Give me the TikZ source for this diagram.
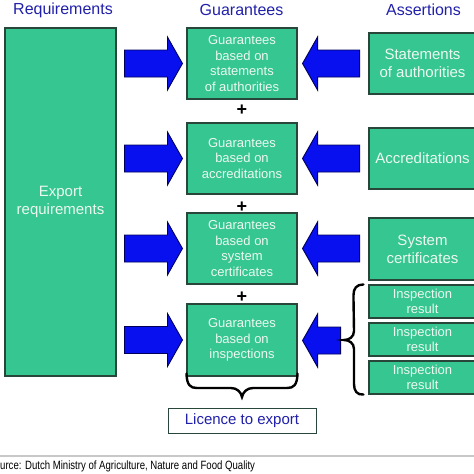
\documentclass[tikz,border=0pt]{standalone}
\usepackage{fontspec}
\setmainfont{Liberation Sans}
\newfontfamily\srcfont[FakeStretch=0.8]{Liberation Sans}
\definecolor{boxgreen}{RGB}{54,198,145}
\definecolor{boxline}{RGB}{40,70,58}
\definecolor{boxtext}{RGB}{236,248,242}
\definecolor{titleblue}{RGB}{32,32,170}
\definecolor{arrowblue}{RGB}{8,16,240}
\definecolor{arrowline}{RGB}{0,0,90}
\definecolor{sepgray}{RGB}{200,200,200}
\tikzset{
  gbox/.style={draw=boxline, line width=1.1pt, fill=boxgreen, text=boxtext, align=center, inner sep=0pt},
  small/.style={font=\fontsize{13}{15.5}\selectfont},
  big/.style={font=\fontsize{15}{18}\selectfont},
  title/.style={text=titleblue, font=\fontsize{16}{19}\selectfont, inner sep=0pt},
  plus/.style={font=\bfseries\fontsize{18}{18}\selectfont, inner sep=0pt},
  brc/.style={draw=black, line width=2.4pt, line cap=round},
  blockarrow/.style={draw=arrowline, line width=0.9pt, fill=arrowblue, line join=miter},
  pics/rarr/.style={code={\path[blockarrow] (0,0) -- (-15,-26.5) -- (-15,-13.5) -- (-58,-13.5) -- (-58,13.5) -- (-15,13.5) -- (-15,26.5) -- cycle;}},
  pics/larr/.style={code={\path[blockarrow] (0,0) -- (15,-26.5) -- (15,-13.5) -- (#1,-13.5) -- (#1,13.5) -- (15,13.5) -- (15,26.5) -- cycle;}},
}
\begin{document}
\begin{tikzpicture}[x=1pt,y=-1pt]
\useasboundingbox (0,0) rectangle (474,474);
% titles
\node[title] (tr) at (63,10) {Requirements};
\node[title] (tg) at (241.5,10) {Guarantees};
\node[title] (ta) at (423.5,10) {Assertions};
% requirement box
\node[gbox, big, minimum width=111pt, minimum height=348pt] (req) at (60.5,202) {Export\\requirements};
% guarantee boxes
\node[gbox, small, minimum width=110pt, minimum height=71pt] (g1) at (242,63.5) {Guarantees\\based on\\statements\\of authorities};
\node[gbox, small, minimum width=110pt, minimum height=71pt] (g2) at (242,158.5) {Guarantees\\based on\\accreditations};
\node[gbox, small, minimum width=110pt, minimum height=71pt] (g3) at (242,248.5) {Guarantees\\based on\\system\\certificates};
\node[gbox, small, minimum width=110pt, minimum height=72pt] (g4) at (242,340) {Guarantees\\based on\\inspections};
% plus signs
\node[plus] (p1) at (242,110) {+};
\node[plus] (p2) at (242,207) {+};
\node[plus] (p3) at (242,297) {+};
% assertion boxes
\node[gbox, big, minimum width=107pt, minimum height=61pt] (a1) at (422.5,63.5) {Statements\\of authorities};
\node[gbox, big, minimum width=107pt, minimum height=61pt] (a2) at (422.5,158.5) {Accreditations};
\node[gbox, big, minimum width=107pt, minimum height=62pt] (a3) at (422.5,249) {System\\certificates};
\node[gbox, small, minimum width=107pt, minimum height=33pt] (i1) at (422.5,301.5) {Inspection\\result};
\node[gbox, small, minimum width=107pt, minimum height=33pt] (i2) at (422.5,339.5) {Inspection\\result};
\node[gbox, small, minimum width=107pt, minimum height=33pt] (i3) at (422.5,377.5) {Inspection\\result};
% arrows requirements -> guarantees
\pic at ([xshift=-4pt]g1.west) {rarr};
\pic at ([xshift=-4pt]g2.west) {rarr};
\pic at ([xshift=-4pt]g3.west) {rarr};
\pic at ([xshift=-4pt]g4.west) {rarr};
% arrows assertions -> guarantees
\pic at ([xshift=5pt]g1.east) {larr=57};
\pic at ([xshift=5pt]g2.east) {larr=57};
\pic at ([xshift=5pt]g3.east) {larr=57};
\pic at ([xshift=5pt,yshift=-0.5pt]g4.east) {larr=38};
% right brace
\coordinate (rb1) at ([xshift=-5pt]i1.north west);
\coordinate (rb2) at ([xshift=-5pt]i3.south west);
\draw[brc] (rb1) .. controls +(-7,0) and +(0,-7) .. ++(-10,11) -- (354,331)
  .. controls (354,337) and (349,340) .. (344,340)
  .. controls (349,340) and (354,343) .. (354,349) -- (354,384)
  .. controls (354,391) and (357,395) .. (rb2);
% bottom brace
\draw[brc] ([yshift=3pt]g4.south west) .. controls (187,385) and (190,388) .. (197,388) -- (231,388)
  .. controls (237,388) and (241,392) .. (242,397)
  .. controls (243,392) and (247,388) .. (253,388) -- (287,388)
  .. controls (294,388) and (297,385) .. ([yshift=3pt]g4.south east);
% licence
\node[draw=boxline, line width=1pt, fill=white, text=titleblue, big, minimum width=148pt, minimum height=25pt, inner sep=0pt] (lic) at (242,420.5) {Licence to export};
% separator and source
\draw[sepgray, line width=1.6pt] (0,456) coordinate (s1) -- (474,456) coordinate (s2);
\node[anchor=west, inner sep=0pt, font=\srcfont\fontsize{12}{12}\selectfont] (src) at (0,466) {urce: Dutch Ministry of Agriculture, Nature and Food Quality};
\end{tikzpicture}
\end{document}
